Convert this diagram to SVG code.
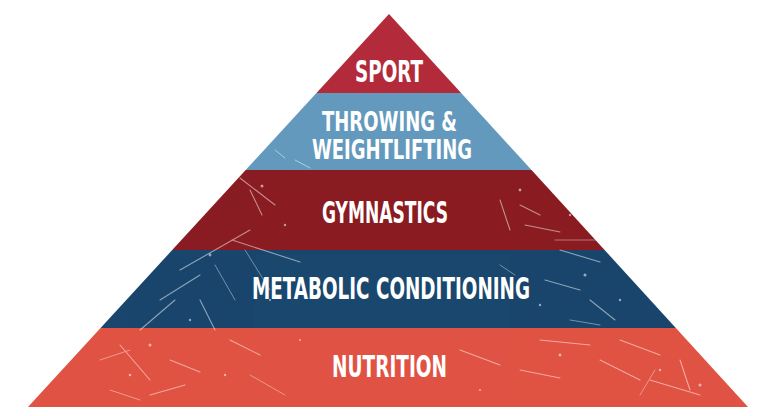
<svg xmlns="http://www.w3.org/2000/svg" width="768" height="416" viewBox="0 0 768 416">
<style>
.lbl{font-family:"Liberation Sans Narrow","DejaVu Sans Condensed","Liberation Sans",sans-serif;font-weight:bold;fill:#ffffff;font-size:31px}
.sm{font-size:27px}
.scr{stroke:#ffffff;stroke-linecap:round;fill:none;opacity:0.5}
.dot{fill:#ffffff;opacity:0.55}
</style>
<defs>
<clipPath id="pyr"><polygon points="389,14 748,407 28,407"/></clipPath>
</defs>
<rect width="768" height="416" fill="#ffffff"/>
<g clip-path="url(#pyr)">
<g id="sport"><rect x="0" y="0" width="768" height="93" fill="#b32a3a"/></g>
<g id="throwing"><rect x="0" y="93" width="768" height="77" fill="#6399bd"/></g>
<g id="gymnastics"><rect x="0" y="170" width="768" height="80" fill="#891c22"/></g>
<g id="metabolic"><rect x="0" y="250" width="768" height="78" fill="#1a476e"/></g>
<g id="nutrition"><rect x="0" y="328" width="768" height="79" fill="#e05243"/></g>
<g id="texture">
<g class="scr">
<path d="M240 178 L275 205 M250 190 L262 215 M232 240 L300 262 M180 270 L250 230 M160 300 L200 275 M140 330 L175 300 M120 345 L150 380 M200 300 L215 330 M170 360 L200 372 M230 340 L260 355 M150 395 L185 385" stroke-width="1.1"/>
<path d="M245 250 L270 290 M215 265 L235 300 M100 360 L130 350 M250 375 L285 395 M110 390 L140 400" stroke-width="0.8"/>
<path d="M520 205 L540 215 M525 225 L560 232 M500 200 L510 230 M560 250 L600 262 M545 280 L580 290 M590 300 L615 320 M540 340 L590 345 M600 360 L640 380 M620 340 L660 355 M650 380 L700 395 M680 360 L690 390 M520 370 L560 378 M460 350 L500 365" stroke-width="1.1"/>
<path d="M555 240 L600 240 M500 265 L515 275 M570 320 L600 325 M640 395 L655 370" stroke-width="0.8"/>
<path d="M295 160 L310 168 M275 150 L285 158" stroke-width="1"/>
</g>
<g class="dot">
<circle cx="262" cy="186" r="1.5"/><circle cx="285" cy="225" r="1.2"/><circle cx="210" cy="255" r="1.4"/><circle cx="190" cy="320" r="1.2"/><circle cx="150" cy="345" r="1.5"/><circle cx="225" cy="375" r="1.2"/><circle cx="300" cy="340" r="1"/><circle cx="520" cy="190" r="1.4"/><circle cx="570" cy="215" r="1.2"/><circle cx="585" cy="275" r="1.5"/><circle cx="620" cy="300" r="1.2"/><circle cx="560" cy="355" r="1.4"/><circle cx="660" cy="370" r="1.2"/><circle cx="700" cy="385" r="1.5"/><circle cx="480" cy="390" r="1"/><circle cx="130" cy="375" r="1.3"/><circle cx="270" cy="300" r="1.1"/><circle cx="540" cy="305" r="1.2"/>
</g>
</g>
</g>
<g id="labels">
<text class="lbl" x="355" y="82" textLength="68" lengthAdjust="spacingAndGlyphs">SPORT</text>
<text class="lbl sm" x="322" y="131" textLength="135" lengthAdjust="spacingAndGlyphs">THROWING &amp;</text>
<text class="lbl sm" x="312" y="159" textLength="160" lengthAdjust="spacingAndGlyphs">WEIGHTLIFTING</text>
<text class="lbl" x="322" y="223" textLength="126" lengthAdjust="spacingAndGlyphs">GYMNASTICS</text>
<text class="lbl" x="252" y="299" textLength="278" lengthAdjust="spacingAndGlyphs">METABOLIC CONDITIONING</text>
<text class="lbl" x="332" y="377" textLength="115" lengthAdjust="spacingAndGlyphs">NUTRITION</text>
</g>
</svg>
